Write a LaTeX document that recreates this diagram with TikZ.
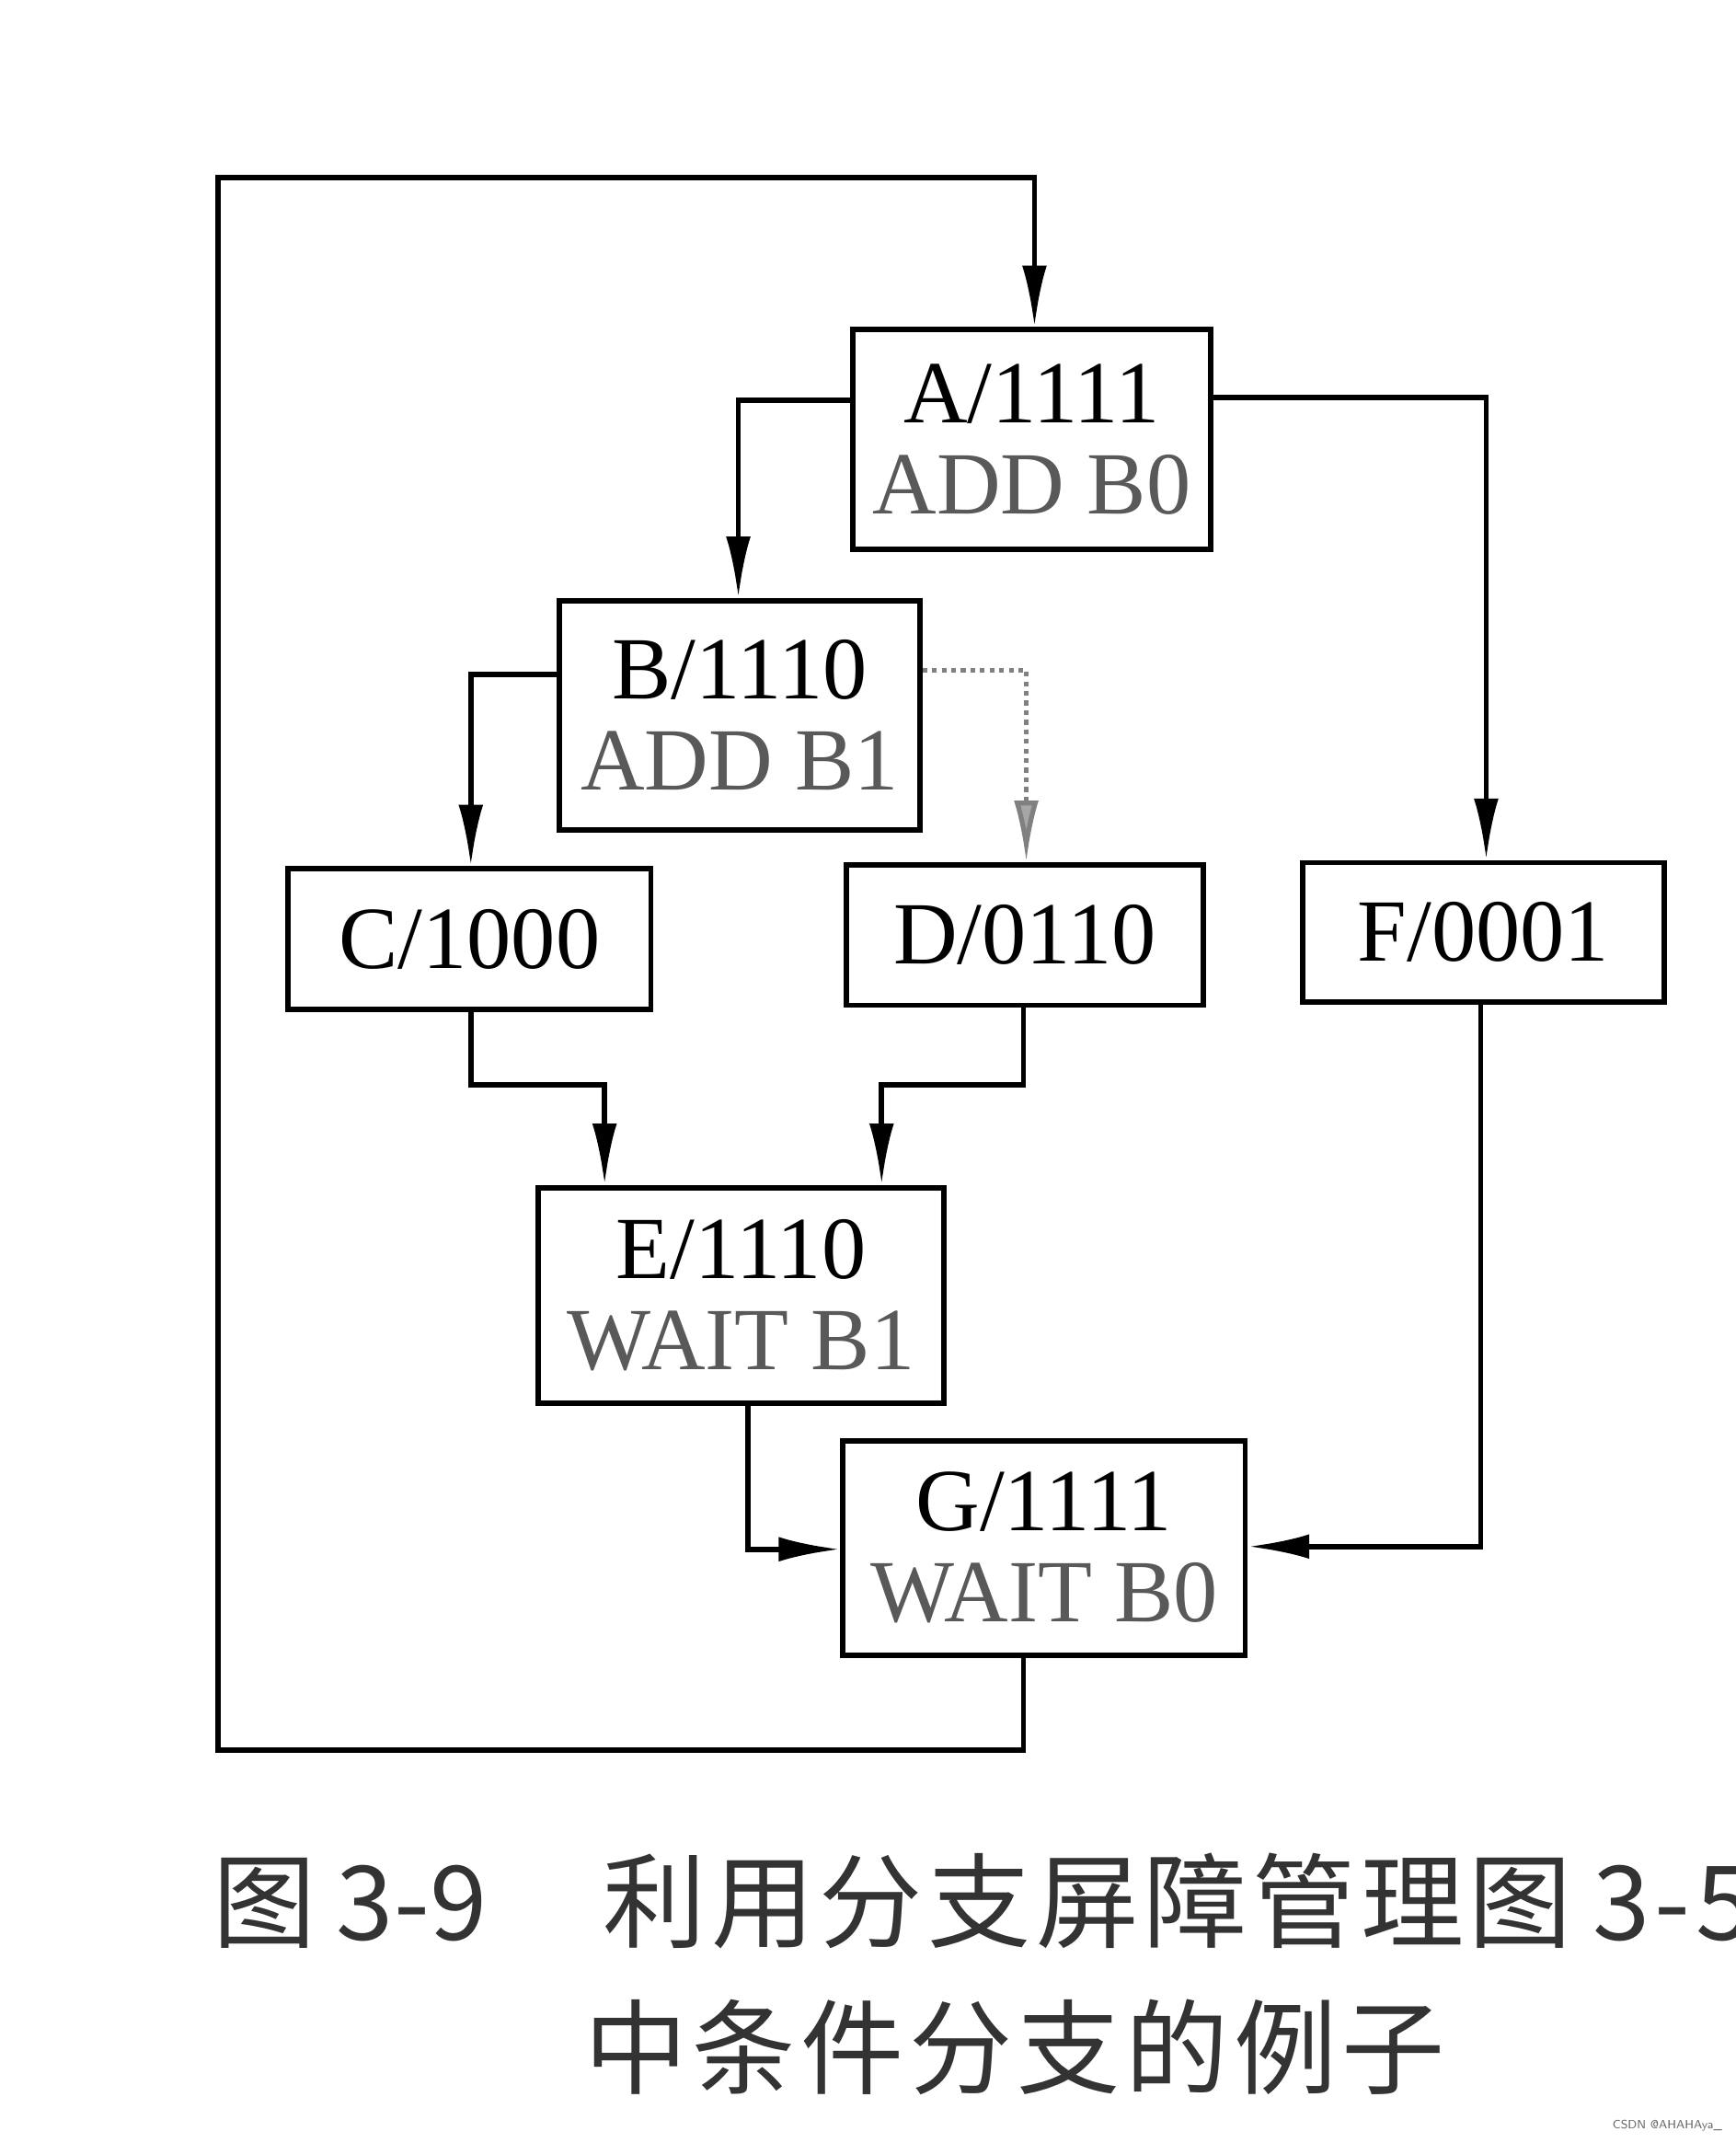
\documentclass[tikz,border=0pt]{standalone}
\usepackage{fontspec}
\setmainfont{Liberation Serif}
\newfontfamily\cjk{Noto Sans CJK SC}
\usetikzlibrary{arrows.meta}
\begin{document}
\begin{tikzpicture}[x=0.02cm,y=-0.02cm,
  box/.style={draw,line width=2.2pt,align=center,inner sep=0pt,font=\fontsize{37}{40}\selectfont},
  con/.style={line width=2.2pt},
  arr/.style={con,-{Latex[length=0.9cm,width=0.36cm]}},
  darr/.style={line width=2pt,gray,dotted,-{Latex[length=0.9cm,width=0.36cm,fill=gray!70]}},
  capt/.style={font=\cjk\fontsize{43}{46}\selectfont,text=black!80,anchor=west}]
\useasboundingbox[fill=white] (0,0) rectangle (1272,1570);
\node[box,minimum width=5.24cm,minimum height=3.22cm] (A) at (756,322) {A/1111\\[-2pt]{\color{black!65}ADD B0}};
\node[box,minimum width=5.28cm,minimum height=3.36cm] (B) at (542,524) {B/1110\\[-2pt]{\color{black!65}ADD B1}};
\node[box,minimum width=5.32cm,minimum height=2.06cm] (C) at (344,688) {C/1000};
\node[box,minimum width=5.24cm,minimum height=2.06cm] (D) at (751,685) {D/0110};
\node[box,minimum width=5.30cm,minimum height=2.04cm] (F) at (1087,683) {F/0001};
\node[box,minimum width=5.94cm,minimum height=3.16cm] (E) at (543,949) {E/1110\\[-2pt]{\color{black!65}WAIT B1}};
\node[box,minimum width=5.90cm,minimum height=3.14cm] (G) at (765,1134) {G/1111\\[-2pt]{\color{black!65}WAIT B0}};
\coordinate (l1) at (750,1282);
\coordinate (l2) at (160,1282);
\coordinate (l3) at (160,130);
\coordinate (l4) at (758,130);
\draw[arr] (G.south -| l1) -- (l1) -- (l2) -- (l3) -- (l4) -- (A.north -| l4);
\draw[arr] (A.west |- 0,293) -| (B.north -| 541,0);
\draw[arr] (A.east |- 0,291) -| (F.north -| 1089,0);
\draw[arr] (B.west |- 0,494) -| (C.north -| 345,0);
\draw[darr] (B.east |- 0,491) -| (D.north -| 752,0);
\draw[arr] (C.south -| 345,0) |- (443,795) -- (E.north -| 443,0);
\draw[arr] (D.south -| 750,0) |- (646,795) -- (E.north -| 646,0);
\draw[arr] (E.south -| 548,0) |- (G.west |- 0,1135);
\draw[arr] (F.south -| 1085,0) |- (G.east |- 0,1133);
\node[capt] (cap1) at (150,1393) {图\hspace{0.3cm}3-9\hspace{1.7cm}\addfontfeature{LetterSpace=5}利用分支屏障管理图\hspace{0.3cm}3-5};
\node[capt] (cap2) at (422,1500) {\addfontfeature{LetterSpace=5}中条件分支的例子};
\node[font=\sffamily\fontsize{5}{6}\selectfont,text=black!60,anchor=east] (wm) at (1268,1557) {CSDN @AHAHAya\_};
\end{tikzpicture}
\end{document}
